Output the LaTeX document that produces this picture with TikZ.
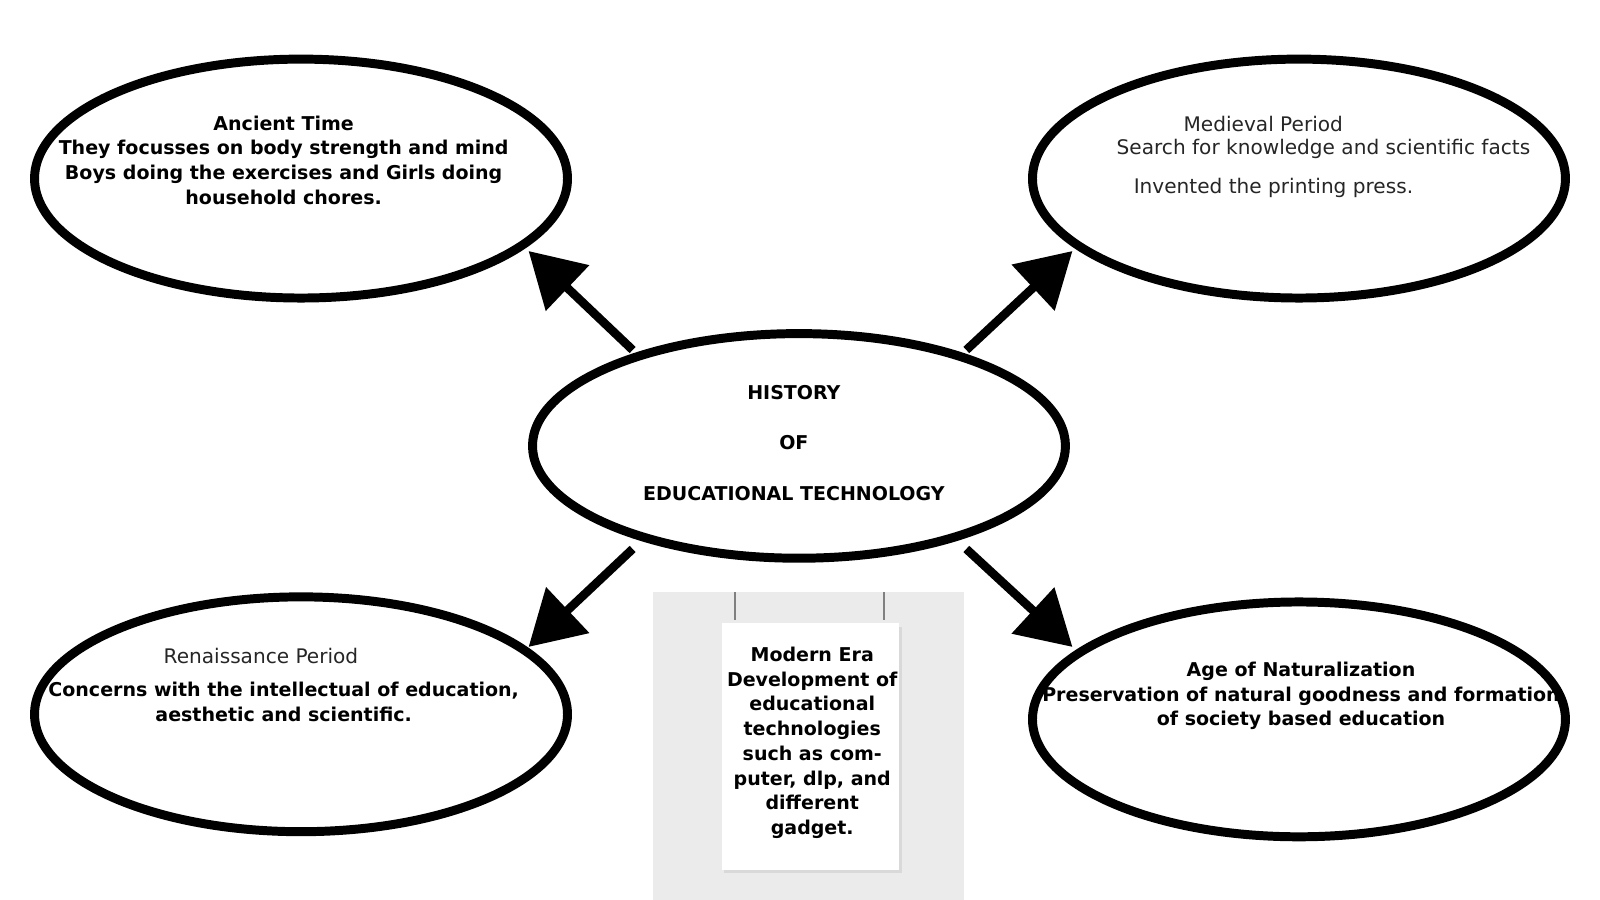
\documentclass[tikz,border=0pt]{standalone}
\usepackage{fontspec}
\setmainfont{DejaVu Sans}
\usetikzlibrary{shapes.geometric,arrows.meta}
\tikzset{
  oval/.style={draw=black,line width=2.5pt,ellipse,fill=white,inner sep=0},
  txt/.style={align=center,font=\fontsize{5.3pt}{6.9pt}\selectfont\bfseries},
  txtl/.style={align=center,font=\fontsize{5.6pt}{6.9pt}\selectfont,text=black!85},
  conn/.style={line width=2.4pt,-{Triangle[length=15pt,width=17pt]}}
}
\begin{document}
\begin{tikzpicture}[x=0.01cm,y=-0.01cm]
\useasboundingbox (0,0) rectangle (1568,882);
\fill[white] (0,0) rectangle (1568,882);
% ellipses
\node[oval,minimum width=5.22cm,minimum height=2.34cm] (tl) at (295,175) {};
\node[oval,minimum width=5.22cm,minimum height=2.34cm] (tr) at (1273,175) {};
\node[oval,minimum width=5.22cm,minimum height=2.2cm] (c) at (783,437) {};
\node[oval,minimum width=5.22cm,minimum height=2.3cm] (bl) at (295,700) {};
\node[oval,minimum width=5.22cm,minimum height=2.3cm] (br) at (1273,705) {};
% texts
\node[txt] (tlt) at (278,157) {Ancient Time\\They focusses on body strength and mind\\Boys doing the exercises and Girls doing\\household chores.};
\node[txtl] (trt0) at (1238,122) {Medieval Period};
\node[txtl] (trt1) at (1297,146) {Search for knowledge and scientific facts};
\node[txtl] (trt2) at (1248,184) {Invented the printing press.};
\node[txt,font=\fontsize{5.3pt}{14pt}\selectfont\bfseries] (ct) at (778,434) {HISTORY\\OF\\EDUCATIONAL TECHNOLOGY};
\node[txtl,anchor=west] (blt1) at (148,643) {Renaissance Period};
\node[txt] (blt2) at (278,688) {Concerns with the intellectual of education,\\aesthetic and scientific.};
\node[txt] (brt) at (1275,682) {Age of Naturalization\\Preservation of natural goodness and formation\\of society based education};
% poster
\fill[black!8] (640,580) rectangle (945,882);
\draw[black!50,line width=0.5pt] (720,580) -- (720,608) (866,580) -- (866,608);
\fill[black!15] (710,614) rectangle (884,856);
\node[fill=white,minimum width=1.73cm,minimum height=2.42cm,anchor=north west,inner sep=0] (poster) at (707,610) {};
\node[txt] (pt) at (796,728) {Modern Era\\Development of\\educational\\technologies\\such as com-\\puter, dlp, and\\different\\gadget.};
% arrows
\coordinate (a1) at (620,343); \coordinate (b1) at (518,246);
\coordinate (a2) at (947,343); \coordinate (b2) at (1051,246);
\coordinate (a3) at (620,538); \coordinate (b3) at (518,634);
\coordinate (a4) at (947,538); \coordinate (b4) at (1051,634);
\draw[conn] (a1) -- (b1);
\draw[conn] (a2) -- (b2);
\draw[conn] (a3) -- (b3);
\draw[conn] (a4) -- (b4);
\end{tikzpicture}
\end{document}
